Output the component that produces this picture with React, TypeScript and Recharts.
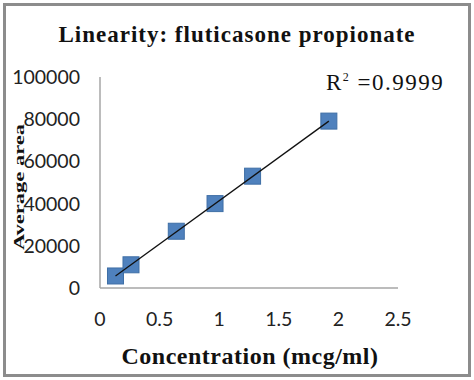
import { ScatterChart, Scatter, XAxis, YAxis } from "recharts";

// concentration (mcg/ml) vs average peak area
const concentration = [0.13, 0.26, 0.64, 0.965, 1.28, 1.92];
const averageArea = [5700, 11000, 26900, 40000, 53000, 79100];

// trendline ends
const trendX = [0.13, 1.92];
const trendY = [5700, 79100];

const xTicks = [0, 0.5, 1, 1.5, 2, 2.5];
const yTicks = [0, 20000, 40000, 60000, 80000, 100000];

const points = concentration.map((c, i) => ({ x: c, y: averageArea[i] }));
const trend = trendX.map((c, i) => ({ x: c, y: trendY[i] }));

const serif = "'Liberation Serif', 'Times New Roman', serif";
const sans = "Lato, 'Liberation Sans', sans-serif";

const SquareDot = (props: any) => {
  const { cx, cy } = props;
  return (
    <rect
      x={cx - 8}
      y={cy - 8}
      width={16}
      height={16}
      fill="#4F81BD"
      stroke="#3F6FA6"
      strokeWidth={1}
    />
  );
};

export default function App() {
  return (
    <div style={{ position: "relative", width: 474, height: 380, background: "#fff" }}>
      <style>{`body{margin:0}`}</style>
      <div
        style={{
          position: "absolute",
          left: 3,
          top: 3,
          width: 468,
          height: 374,
          boxSizing: "border-box",
          border: "3px solid #8c8c8c",
        }}
      />
      <ScatterChart
        width={474}
        height={380}
        margin={{ top: 77, right: 76, bottom: 52, left: 0 }}
      >
        <XAxis
          type="number"
          dataKey="x"
          domain={[0, 2.5]}
          ticks={xTicks}
          height={40}
          tickLine={false}
          tickSize={0}
          tickMargin={24}
          axisLine={{ stroke: "#a6a6a6", strokeWidth: 1.5 }}
          tick={{ fill: "#222", fontSize: 19.5, fontFamily: sans }}
        />
        <YAxis
          type="number"
          dataKey="y"
          domain={[0, 100000]}
          ticks={yTicks}
          width={100}
          tickLine={false}
          tickSize={0}
          tickMargin={20}
          axisLine={{ stroke: "#a6a6a6", strokeWidth: 1.5 }}
          tick={{ fill: "#222", fontSize: 19.5, fontFamily: sans }}
        />
        <Scatter data={points} shape={SquareDot} isAnimationActive={false} />
        <Scatter
          data={trend}
          line={{ stroke: "#111", strokeWidth: 1.3 }}
          shape={() => null}
          isAnimationActive={false}
        />
      </ScatterChart>
      <div
        style={{
          position: "absolute",
          left: 0,
          width: 474,
          top: 22,
          textAlign: "center",
          fontFamily: serif,
          fontWeight: "bold",
          fontSize: 23,
          letterSpacing: 1,
          color: "#111",
        }}
      >
        Linearity: fluticasone propionate
      </div>
      <div
        style={{
          position: "absolute",
          left: 326,
          top: 70,
          fontFamily: serif,
          fontSize: 23,
          letterSpacing: 1.5,
          color: "#111",
          whiteSpace: "nowrap",
        }}
      >
        R<sup style={{ fontSize: 12 }}>2</sup> =0.9999
      </div>
      <div
        style={{
          position: "absolute",
          left: 0,
          width: 500,
          top: 343,
          textAlign: "center",
          fontFamily: serif,
          fontWeight: "bold",
          fontSize: 24,
          letterSpacing: 0.5,
          color: "#111",
        }}
      >
        Concentration (mcg/ml)
      </div>
      <div
        style={{
          position: "absolute",
          left: 19,
          top: 187,
          transform: "translate(-50%, -50%) rotate(-90deg) scaleX(1.5)",
          fontFamily: serif,
          fontWeight: "bold",
          fontSize: 15,
          color: "#111",
          whiteSpace: "nowrap",
        }}
      >
        Average area
      </div>
    </div>
  );
}
